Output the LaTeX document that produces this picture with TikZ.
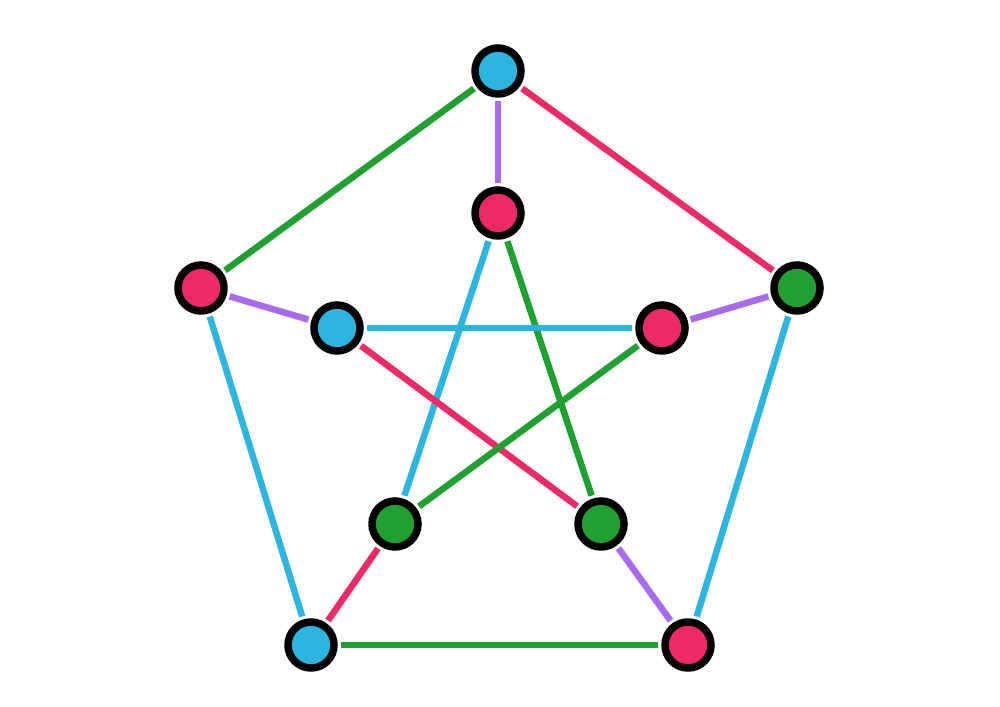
\documentclass[tikz,border=0pt]{standalone}
\usepackage{tikz}
\usetikzlibrary{positioning}
\definecolor{blue}{RGB}{43,181,223}
\definecolor{pink}{RGB}{235,42,103}
\definecolor{green}{RGB}{33,160,50}
\definecolor{purple}{RGB}{169,107,238}

\begin{document}
\begin{tikzpicture}[line cap=butt,line join=round,x=0.01cm,y=-0.01cm,
	vert/.style={circle,draw=black,line width=0.075cm,minimum size=0.46cm,inner sep=0pt,outer sep=0.068cm},
	edge/.style={line width=0.065cm}]
	\useasboundingbox (0,0) rectangle (1000,707);
	% outer pentagon
	\node[vert,fill=blue] (o1) at (498,71) {};
	\node[vert,fill=green] (o2) at (797,288) {};
	\node[vert,fill=pink] (o3) at (688,645) {};
	\node[vert,fill=blue] (o4) at (311,645) {};
	\node[vert,fill=pink] (o5) at (201,288) {};
	% inner star
	\node[vert,fill=pink] (i1) at (498,213) {};
	\node[vert,fill=pink] (i2) at (662,328) {};
	\node[vert,fill=green] (i3) at (601,524) {};
	\node[vert,fill=green] (i4) at (395,524) {};
	\node[vert,fill=blue] (i5) at (337,328) {};
	\draw [edge,color=green] (o1) -- (o5);
	\draw [edge,color=pink] (o1) -- (o2);
	\draw [edge,color=blue] (o2) -- (o3);
	\draw [edge,color=green] (o3) -- (o4);
	\draw [edge,color=blue] (o4) -- (o5);
	\draw [edge,color=purple] (o1) -- (i1);
	\draw [edge,color=purple] (o2) -- (i2);
	\draw [edge,color=purple] (o3) -- (i3);
	\draw [edge,color=pink] (o4) -- (i4);
	\draw [edge,color=purple] (o5) -- (i5);
	\draw [edge,color=blue] (i1) -- (i4);
	\draw [edge,color=green] (i1) -- (i3);
	\draw [edge,color=blue] (i5) -- (i2);
	\draw [edge,color=pink] (i5) -- (i3);
	\draw [edge,color=green] (i2) -- (i4);
\end{tikzpicture}
\end{document}
